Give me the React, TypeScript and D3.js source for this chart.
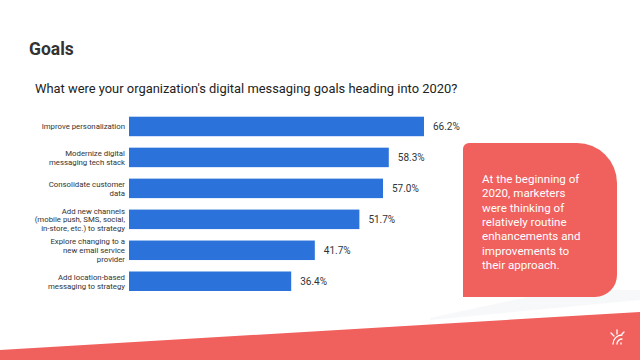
import React from "react";
import * as d3 from "d3";

const categories: string[][] = [
  ["Improve personalization"],
  ["Modernize digital", "messaging tech stack"],
  ["Consolidate customer", "data"],
  ["Add new channels", "(mobile push, SMS, social,", "in-store, etc.) to strategy"],
  ["Explore changing to a", "new email service", "provider"],
  ["Add location-based", "messaging to strategy"],
];
const values: number[] = [66.2, 58.3, 57.0, 51.7, 41.7, 36.4];
const valueLabels: string[] = ["66.2%", "58.3%", "57.0%", "51.7%", "41.7%", "36.4%"];
const calloutLines: string[] = [
  "At the beginning of",
  "2020, marketers",
  "were thinking of",
  "relatively routine",
  "enhancements and",
  "improvements to",
  "their approach.",
];

const W = 640;
const H = 360;
const FONT = "Roboto, 'Noto Sans', sans-serif";

export default function App() {
  const x = d3.scaleLinear().domain([0, 100]).range([129, 574.6]);
  const y = d3
    .scaleBand<number>()
    .domain(d3.range(values.length))
    .range([116.7, 291])
    .paddingInner(0.37)
    .paddingOuter(0);

  const bw = y.bandwidth();
  const lh = 8.8;

  // callout box path
  const bx0 = 463, bx1 = 617, by0 = 143, by1 = 297;
  const rTL = 6, rTR = 40, rBR = 22;
  const box = `M${bx0 + rTL},${by0} L${bx1 - rTR},${by0} A${rTR},${rTR} 0 0 1 ${bx1},${by0 + rTR} L${bx1},${by1 - rBR} A${rBR},${rBR} 0 0 1 ${bx1 - rBR},${by1} L${bx0},${by1} L${bx0},${by0 + rTL} A${rTL},${rTL} 0 0 1 ${bx0 + rTL},${by0} Z`;

  return (
    <svg
      width={W}
      height={H}
      style={{ position: "absolute", left: 0, top: 0, display: "block" }}
      fontFamily={FONT}
    >
      <rect x={0} y={0} width={W} height={H} fill="#ffffff" />
      {/* faint gray area right bottom */}
      <path d={`M430,320 L640,300 L640,290 L560,290 L430,318 Z`} fill="#f1f3f6" opacity={0.6} />
      {/* bottom band */}
      <path d={`M0,350 L640,312 L640,360 L0,360 Z`} fill="#F0605D" />

      <text x={29} y={55} fontSize={17.5} fontWeight={700} fill="#333333">
        Goals
      </text>
      <text x={35} y={93} fontSize={12.9} fill="#222222">
        What were your organization's digital messaging goals heading into 2020?
      </text>

      {values.map((v, i) => {
        const y0 = y(i)!;
        const cy = y0 + bw / 2;
        const lines = categories[i];
        const startY = cy - ((lines.length - 1) * lh) / 2 + 3;
        return (
          <g key={i}>
            <rect x={x(0)} y={y0} width={x(v) - x(0)} height={bw} fill="#2B73DA" />
            <text x={x(v) + 9} y={cy + 3.5} fontSize={10} fill="#333333">
              {valueLabels[i]}
            </text>
            <text textAnchor="end" fontSize={7.8} fill="#333333">
              {lines.map((l, j) => (
                <tspan key={j} x={125} y={startY + j * lh}>
                  {l}
                </tspan>
              ))}
            </text>
          </g>
        );
      })}

      <path d={box} fill="#F0605D" />
      <text fontSize={11.6} fill="#ffffff">
        {calloutLines.map((l, j) => (
          <tspan key={j} x={482} y={183 + j * 14.3}>
            {l}
          </tspan>
        ))}
      </text>

      {/* small logo */}
      <g stroke="#ffffff" strokeWidth={1.3} fill="none" strokeLinecap="round">
        <path d="M613,344 A9,9 0 0 1 622,335" />
        <path d="M617,344 A5,5 0 0 1 622,339" />
        <path d="M621,344 L621,343" />
        <path d="M611,333 L614,336" />
        <path d="M617,330 L617,334" />
        <path d="M624,332 L622,334" />
      </g>
    </svg>
  );
}
